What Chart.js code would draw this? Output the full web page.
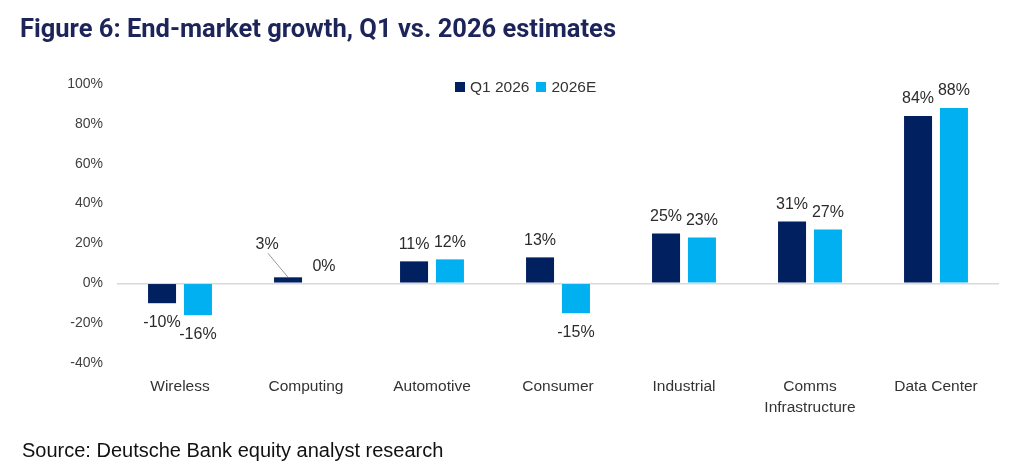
<!DOCTYPE html>
<html lang="en">
<head>
    <meta charset="UTF-8" />
    <title>End-market growth</title>
    <script src="https://cdn.jsdelivr.net/npm/chart.js"></script>
    <style>
        html, body {
            margin: 0;
            padding: 0;
            background: #fff;
        }
        body {
            width: 1017px;
            height: 473px;
            position: relative;
            overflow: hidden;
            font-family: 'Liberation Sans', Arial, sans-serif;
        }
        h1 {
            position: absolute;
            left: 20px;
            top: 13px;
            margin: 0;
            font-family: Roboto, 'Liberation Sans', sans-serif;
            font-weight: 700;
            font-size: 25.5px;
            line-height: 30px;
            color: #1c2459;
        }
        .source {
            position: absolute;
            left: 22px;
            top: 438px;
            font-size: 20px;
            line-height: 24px;
            color: #111;
        }
        #legend {
            position: absolute;
            left: 455px;
            top: 78px;
            display: flex;
            gap: 7px;
            font-size: 15.5px;
            line-height: 18px;
            color: #333;
        }
        #legend span.sw {
            display: inline-block;
            width: 10px;
            height: 10px;
            margin-right: 5px;
            vertical-align: 0px;
        }
        #wrap {
            position: absolute;
            left: 0;
            top: 0;
            width: 1017px;
            height: 473px;
        }
    </style>
</head>
<body>
    <div id="wrap"><canvas id="chart"></canvas></div>
    <h1>Figure 6: End-market growth, Q1 vs. 2026 estimates</h1>
    <div id="legend"></div>
    <div class="source">Source: Deutsche Bank equity analyst research</div>

    <script>
        const categories = ['Wireless', 'Computing', 'Automotive', 'Consumer', 'Industrial', ['Comms', 'Infrastructure'], 'Data Center'];
        const seriesNames = ['Q1 2026', '2026E'];
        const q1Values = [-10, 3, 11, 13, 25, 31, 84];
        const estValues = [-16, 0, 12, -15, 23, 27, 88];
        const yTicks = [-40, -20, 0, 20, 40, 60, 80, 100];
        const colors = ['#002060', '#00b0f0'];

        // legend built from the series names
        document.getElementById('legend').innerHTML = seriesNames.map((n, i) =>
            `<div><span class="sw" style="background:${colors[i]}"></span>${n}</div>`).join('');

        // value labels; the small Computing bar gets a leader line
        const labelPlugin = {
            id: 'valueLabels',
            afterDatasetsDraw(chart) {
                const c = chart.ctx;
                c.save();
                c.font = '16px "Liberation Sans", Arial, sans-serif';
                c.fillStyle = '#2b2b2b';
                c.textAlign = 'center';
                c.textBaseline = 'middle';
                chart.data.datasets.forEach((ds, di) => {
                    chart.getDatasetMeta(di).data.forEach((bar, i) => {
                        const v = ds.data[i];
                        let x = bar.x;
                        let y = v < 0 ? bar.y + 19 : bar.y - 17;
                        if (di === 0 && i === 1) {
                            // offset label with leader
                            c.strokeStyle = '#999';
                            c.lineWidth = 1;
                            c.beginPath();
                            c.moveTo(bar.x - 20, bar.y - 24);
                            c.lineTo(bar.x, bar.y);
                            c.stroke();
                            x = bar.x - 21;
                            y = bar.y - 33;
                        }
                        c.fillText(v + '%', x, y);
                    });
                });
                c.restore();
            }
        };

        const ctx = document.getElementById('chart').getContext('2d');
        const chart = new Chart(ctx, {
            type: 'bar',
            data: {
                labels: categories,
                datasets: [
                    { label: seriesNames[0], data: q1Values, backgroundColor: colors[0] },
                    { label: seriesNames[1], data: estValues, backgroundColor: colors[1] }
                ]
            },
            options: {
                responsive: true,
                maintainAspectRatio: false,
                animation: false,
                layout: { padding: { top: 84, right: 18, bottom: 50, left: 0 } },
                datasets: { bar: { categoryPercentage: 0.57, barPercentage: 0.78 } },
                plugins: {
                    legend: { display: false },
                    tooltip: { enabled: false }
                },
                scales: {
                    x: {
                        grid: { display: false },
                        border: { display: false },
                        ticks: {
                            color: '#333',
                            font: { size: 15.5, family: '"Liberation Sans", Arial, sans-serif', lineHeight: 1.3 },
                            padding: 6,
                            maxRotation: 0
                        },
                        afterFit(scale) { scale.height = 60; }
                    },
                    y: {
                        min: -40,
                        max: 100,
                        afterBuildTicks(scale) { scale.ticks = yTicks.map(v => ({ value: v })); },
                        grid: {
                            drawTicks: false,
                            color: ctx => ctx.tick && ctx.tick.value === 0 ? '#d9d9d9' : 'rgba(0,0,0,0)',
                            lineWidth: 1.5
                        },
                        border: { display: false },
                        ticks: {
                            color: '#404040',
                            font: { size: 14, family: '"Liberation Sans", Arial, sans-serif' },
                            padding: 14,
                            callback: v => v + '%'
                        },
                        afterFit(scale) { scale.width = 117; }
                    }
                }
            },
            plugins: [labelPlugin]
        });
    </script>
</body>
</html>
